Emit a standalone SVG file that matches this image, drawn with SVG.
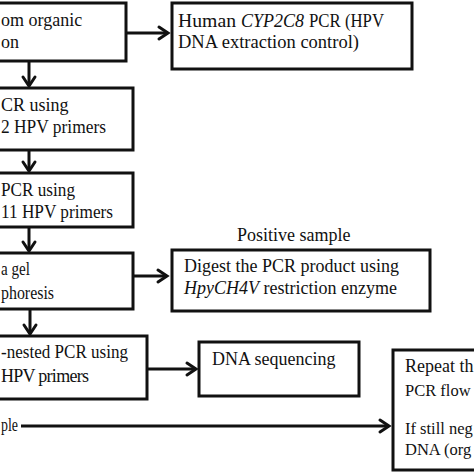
<svg xmlns="http://www.w3.org/2000/svg" width="474" height="474" viewBox="0 0 474 474">
<defs>
<style>
.box{fill:#fff;stroke:#111;stroke-width:3}
.t{font-family:"Liberation Serif","Times New Roman",serif;font-size:18px;fill:#111}
.s{font-size:16.5px}
.i{font-style:italic}
.c{fill:none;stroke:#111;stroke-width:3}
</style>
<marker id="ah" markerUnits="userSpaceOnUse" markerWidth="16" markerHeight="16" refX="12" refY="8" orient="auto" overflow="visible">
<path d="M3,2 L12,8 L3,14" fill="none" stroke="#111" stroke-width="3" stroke-linecap="round" stroke-linejoin="miter"/>
</marker>
</defs>
<rect width="474" height="474" fill="#fff"/>
<g id="connectors">
<line class="c" x1="126" y1="33" x2="168" y2="33" marker-end="url(#ah)"/>
<line class="c" x1="29" y1="61" x2="29" y2="86" marker-end="url(#ah)"/>
<line class="c" x1="29" y1="150" x2="29" y2="171" marker-end="url(#ah)"/>
<line class="c" x1="29" y1="227" x2="29" y2="251" marker-end="url(#ah)"/>
<line class="c" x1="133" y1="276" x2="167" y2="276" marker-end="url(#ah)"/>
<line class="c" x1="30" y1="309" x2="30" y2="334" marker-end="url(#ah)"/>
<line class="c" x1="147" y1="369" x2="196" y2="369" marker-end="url(#ah)"/>
<line class="c" x1="21" y1="426" x2="389" y2="426" marker-end="url(#ah)"/>
</g>
<g id="n1">
<rect class="box" x="-20" y="3" width="146" height="58"/>
<text class="t" x="1" y="26">om organic</text>
<text class="t" x="1" y="48">on</text>
</g>
<g id="n2">
<rect class="box" x="172" y="3" width="240" height="66"/>
<text class="t" x="178" y="27" textLength="58" lengthAdjust="spacingAndGlyphs">Human</text>
<text class="t i" x="241" y="27" textLength="63" lengthAdjust="spacingAndGlyphs">CYP2C8</text>
<text class="t" x="309" y="27" textLength="75" lengthAdjust="spacingAndGlyphs">PCR (HPV</text>
<text class="t" x="178" y="48" textLength="181" lengthAdjust="spacingAndGlyphs">DNA extraction control)</text>
</g>
<g id="n3">
<rect class="box" x="-20" y="88" width="153" height="62"/>
<text class="t" x="1" y="111">CR using</text>
<text class="t" x="1" y="133" textLength="105" lengthAdjust="spacingAndGlyphs">2 HPV primers</text>
</g>
<g id="n4">
<rect class="box" x="-20" y="173" width="153" height="54"/>
<text class="t" x="1" y="196" textLength="74" lengthAdjust="spacingAndGlyphs">PCR using</text>
<text class="t" x="1" y="218" textLength="112" lengthAdjust="spacingAndGlyphs">11 HPV primers</text>
</g>
<g id="n5">
<rect class="box" x="-20" y="253" width="153" height="56"/>
<text class="t" x="1" y="275" textLength="29" lengthAdjust="spacingAndGlyphs">a gel</text>
<text class="t" x="1" y="299" textLength="53" lengthAdjust="spacingAndGlyphs">phoresis</text>
</g>
<g id="n6">
<rect class="box" x="-20" y="336" width="167" height="63"/>
<text class="t" x="1" y="358" textLength="127" lengthAdjust="spacingAndGlyphs">-nested PCR using</text>
<text class="t" x="1" y="382" textLength="88" lengthAdjust="spacing">HPV primers</text>
</g>
<g id="n7">
<text class="t" x="237" y="241">Positive sample</text>
<rect class="box" x="172" y="250" width="258" height="61"/>
<text class="t" x="184" y="272">Digest the PCR product using</text>
<text class="t" x="184" y="294"><tspan class="i">HpyCH4V</tspan> restriction enzyme</text>
</g>
<g id="n8">
<rect class="box" x="199" y="342" width="160" height="54"/>
<text class="t" x="212" y="365">DNA sequencing</text>
</g>
<g id="n9">
<rect class="box" x="393" y="350" width="100" height="120"/>
<text class="t" x="405" y="372">Repeat th</text>
<text class="t s" x="405" y="396">PCR flow</text>
<text class="t s" x="405" y="434">If still neg</text>
<text class="t s" x="405" y="455">DNA (org</text>
</g>
<text class="t" x="1" y="431" textLength="17" lengthAdjust="spacingAndGlyphs">ple</text>
</svg>
